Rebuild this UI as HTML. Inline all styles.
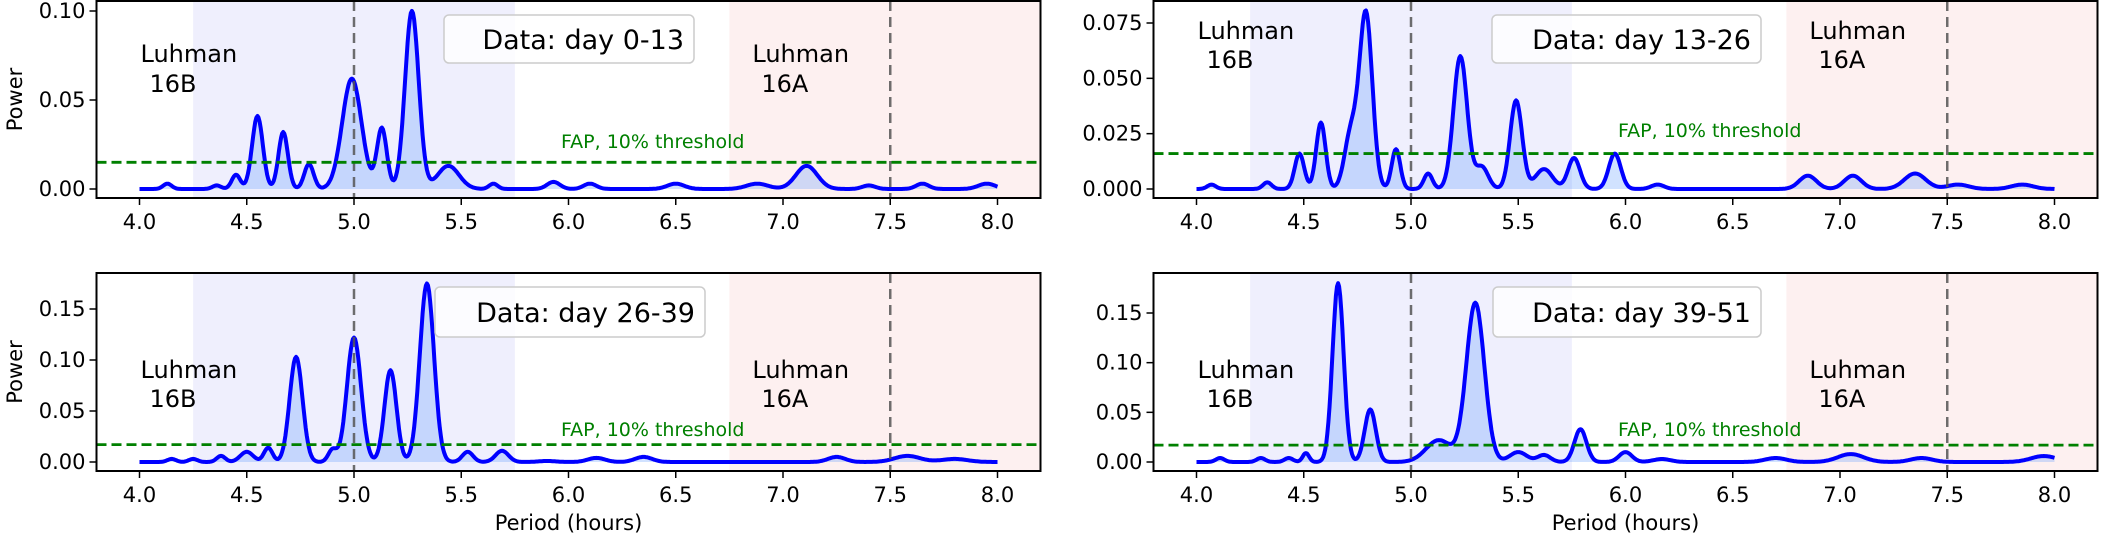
<!DOCTYPE html><html><head><meta charset="utf-8"><style>
html,body{margin:0;padding:0;background:#fff;}
svg{display:block;font-family:"DejaVu Sans","Liberation Sans",sans-serif;}
</style></head><body>
<svg id="s" width="2102" height="537" xmlns="http://www.w3.org/2000/svg"></svg>
<script>
const S=document.getElementById('s');let h='';
const panels=[
 {x0:139.5,top:1,bot:198,y0:189,ppu:178/0.10,ticks:[0,0.05,0.10],fmt:2,fap:0.015,leg:[444,15,250,48,'Data: day 0-13'],lb:[62,92],la:[62,92],fapT:148,
  peaks:[[4.13,.003,.02],[4.36,.002,.02],[4.45,.008,.02],[4.55,.041,.025],[4.67,.032,.022],[4.79,.014,.022],[4.99,.062,.045],[5.13,.034,.023],[5.27,.100,.032],[5.44,.013,.05],[5.65,.003,.02],[5.93,.004,.03],[6.1,.003,.03],[6.5,.003,.04],[6.88,.003,.05],[7.11,.013,.05],[7.4,.002,.03],[7.65,.003,.03],[7.95,.003,.04]]},
 {x0:1196.5,top:1,bot:198,y0:189,ppu:166/0.075,ticks:[0,0.025,0.05,0.075],fmt:3,fap:0.016,leg:[1492,15,269,48,'Data: day 13-26'],lb:[39,68],la:[39,68],fapT:137,
  peaks:[[4.07,.002,.02],[4.33,.003,.02],[4.48,.016,.022],[4.58,.030,.022],[4.72,.025,.03],[4.79,.079,.03],[4.93,.018,.02],[5.08,.007,.02],[5.23,.060,.032],[5.33,.01,.03],[5.49,.040,.028],[5.62,.009,.04],[5.76,.014,.028],[5.95,.016,.028],[6.15,.002,.03],[6.85,.006,.04],[7.06,.006,.04],[7.35,.007,.05],[7.55,.002,.05],[7.85,.002,.05]]},
 {x0:139.5,top:273,bot:471,y0:462,ppu:153/0.15,ticks:[0,0.05,0.10,0.15],fmt:2,fap:0.017,leg:[435,287,270,50,'Data: day 26-39'],lb:[378,407],la:[378,407],fapT:436,
  peaks:[[4.15,.003,.02],[4.25,.003,.02],[4.38,.006,.02],[4.5,.01,.03],[4.6,.014,.02],[4.73,.103,.03],[4.9,.012,.02],[5.0,.122,.033],[5.17,.09,.028],[5.34,.175,.033],[5.53,.01,.025],[5.69,.011,.03],[5.9,.001,.04],[6.13,.004,.04],[6.35,.005,.04],[7.25,.005,.04],[7.58,.006,.06],[7.8,.003,.06]]},
 {x0:1196.5,top:273,bot:471,y0:462,ppu:149/0.15,ticks:[0,0.05,0.10,0.15],fmt:2,fap:0.017,leg:[1493,287,268,50,'Data: day 39-51'],lb:[378,407],la:[378,407],fapT:436,
  peaks:[[4.11,.004,.02],[4.3,.004,.02],[4.43,.004,.02],[4.51,.009,.015],[4.66,.18,.026],[4.81,.053,.026],[5.13,.022,.06],[5.3,.160,.042],[5.5,.01,.04],[5.62,.007,.03],[5.79,.033,.028],[6.0,.01,.03],[6.17,.003,.04],[6.7,.004,.05],[7.05,.008,.06],[7.38,.004,.05],[7.95,.006,.06]]}
];
panels.forEach((p,i)=>{
 const X=v=>p.x0+(v-4)*214.5, Y=v=>p.y0-v*p.ppu;
 const L=p.x0-43,R=p.x0+901;
 h+=`<rect x="${X(4.25)}" y="${p.top}" width="${X(5.75)-X(4.25)}" height="${p.bot-p.top}" fill="#efeffd"/>`;
 h+=`<rect x="${X(6.75)}" y="${p.top}" width="${R-X(6.75)}" height="${p.bot-p.top}" fill="#fdf0f0"/>`;
 let pts=[];for(let v=4;v<=8.0001;v+=0.005){let s=0;p.peaks.forEach(k=>{s+=k[1]*Math.exp(-0.5*((v-k[0])/k[2])**2)});pts.push([X(v),Y(s)]);}
 const d=pts.map((q,j)=>(j?'L':'M')+q[0].toFixed(1)+' '+q[1].toFixed(1)).join('');
 h+=`<path d="${d}L${X(8)} ${p.y0}L${X(4)} ${p.y0}Z" fill="rgb(90,150,255)" fill-opacity="0.28"/>`;
 h+=`<path d="${d}" fill="none" stroke="#0000ff" stroke-width="4" stroke-linejoin="round"/>`;
 [5,7.5].forEach(v=>h+=`<line x1="${X(v)}" x2="${X(v)}" y1="${p.top}" y2="${p.bot}" stroke="#555" stroke-opacity="0.85" stroke-width="2.5" stroke-dasharray="10,6"/>`);
 h+=`<line x1="${L}" x2="${R}" y1="${Y(p.fap)}" y2="${Y(p.fap)}" stroke="#008000" stroke-width="2.8" stroke-dasharray="10,5"/>`;
 h+=`<text x="${X(5.965)}" y="${p.fapT}" font-size="19" fill="#008000">FAP, 10% threshold</text>`;
 h+=`<text x="${X(4.0)+1}" y="${p.lb[0]}" font-size="24">Luhman</text><text x="${X(4.0)+10}" y="${p.lb[1]}" font-size="24">16B</text>`;
 h+=`<text x="${X(6.75)+23}" y="${p.la[0]}" font-size="24">Luhman</text><text x="${X(6.75)+32}" y="${p.la[1]}" font-size="24">16A</text>`;
 const g=p.leg;h+=`<rect x="${g[0]}" y="${g[1]}" width="${g[2]}" height="${g[3]}" rx="5" fill="#fff" fill-opacity="0.8" stroke="#ccc" stroke-width="1.5"/>`;
 h+=`<text x="${g[0]+g[2]-10}" y="${g[1]+g[3]/2+10}" font-size="27" text-anchor="end">${g[4]}</text>`;
 h+=`<rect x="${L}" y="${p.top}" width="${R-L}" height="${p.bot-p.top}" fill="none" stroke="#000" stroke-width="2"/>`;
 for(let v=4;v<=8.001;v+=0.5){h+=`<line x1="${X(v)}" x2="${X(v)}" y1="${p.bot}" y2="${p.bot+7}" stroke="#000" stroke-width="1.5"/><text x="${X(v)}" y="${p.bot+31}" font-size="21" text-anchor="middle">${v.toFixed(1)}</text>`;}
 p.ticks.forEach(v=>{h+=`<line x1="${L-7}" x2="${L}" y1="${Y(v)}" y2="${Y(v)}" stroke="#000" stroke-width="1.5"/><text x="${L-11}" y="${Y(v)+7}" font-size="21" text-anchor="end">${v.toFixed(p.fmt)}</text>`;});
 if(i%2==0)h+=`<text transform="translate(22,${(p.top+p.bot)/2}) rotate(-90)" font-size="21" text-anchor="middle">Power</text>`;
 if(i>=2)h+=`<text x="${X(6)}" y="530" font-size="21" text-anchor="middle">Period (hours)</text>`;
});
S.innerHTML=h;
</script></body></html>
